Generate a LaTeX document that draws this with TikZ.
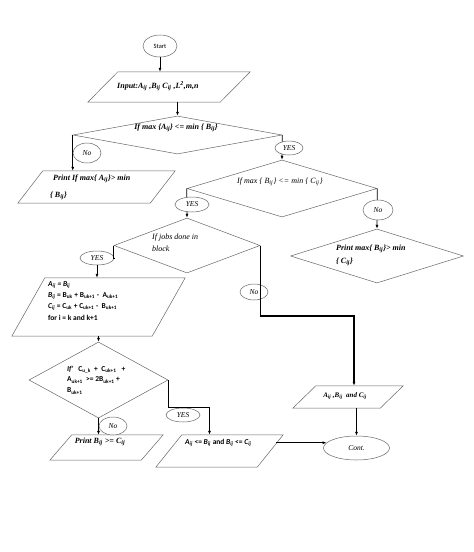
\documentclass[tikz,border=0pt]{standalone}
\usepackage{fontspec}
\setmainfont{Liberation Serif}
\newfontfamily\calib{Carlito}
\usetikzlibrary{shapes.geometric,arrows.meta}
\newcommand\sbs[1]{\textsubscript{#1}}
\newcommand\pgm[2]{\draw[shp] ([xshift=#2]#1.north west) -- (#1.north east) -- ([xshift=-#2]#1.south east) -- (#1.south west) -- cycle;}
\begin{document}
\begin{tikzpicture}[x=1pt,y=-1pt,
  shp/.style={draw=black!60, line width=0.5pt},
  box/.style={rectangle, draw=none, inner sep=0pt},
  dia/.style={diamond, shp, inner sep=0pt},
  oval/.style={ellipse, shp, fill=white, inner sep=0pt, font=\fontsize{7.5}{9}\selectfont\itshape},
  conn/.style={draw=black, line width=0.7pt, -{Latex[length=4pt,width=3pt]}},
  plain/.style={draw=black, line width=0.7pt},
  thk/.style={line width=1.4pt},
  txt/.style={inner sep=0pt, align=left, font=\fontsize{8}{11}\selectfont\bfseries\itshape},
  itx/.style={inner sep=0pt, align=left, font=\fontsize{8}{11}\selectfont\itshape},
  sans/.style={inner sep=0pt, align=left, font=\fontsize{7.5}{10}\selectfont\calib\bfseries}]
\useasboundingbox (0,0) rectangle (474,552);

% shapes
\node[oval, font=\fontsize{6.5}{8}\selectfont\calib, minimum width=34pt, minimum height=22pt] (start) at (160,46) {Start};

\node[box, minimum width=162pt, minimum height=30pt] (in) at (169,87) {};
\pgm{in}{30pt}
\node[txt, anchor=west] (intxt) at (117,86) {Input:A\sbs{ij} ,B\sbs{ij} C\sbs{ij} ,L\textsuperscript{2},m,n};

\node[dia, minimum width=209pt, minimum height=38pt] (d1) at (177.5,135) {};
\node[txt] (d1txt) at (176,128) {If max \{A\sbs{ij}\} <= min \{ B\sbs{ij}\}};

\node[box, minimum width=157pt, minimum height=32pt] (p1) at (96.5,187) {};
\pgm{p1}{25pt}
\node[txt, anchor=west] (p1a) at (53,179) {Print If max\{ A\sbs{ij}\}> min};
\node[txt, anchor=west] (p1b) at (50,196) {\{ B\sbs{ij}\}};

\node[dia, minimum width=190pt, minimum height=57pt] (d2) at (282,188.5) {};
\node[itx] (d2txt) at (280,182) {If max \{ B\sbs{ij}\} <= min \{ C\sbs{ij}\}};

\node[dia, minimum width=173pt, minimum height=54pt] (d3r) at (377,256) {};
\node[txt, anchor=west] (d3ra) at (336,249) {Print max\{ B\sbs{ij}\}> min};
\node[txt, anchor=west] (d3rb) at (336,262) {\{ C\sbs{ij}\}};

\node[dia, minimum width=146pt, minimum height=55pt] (d3) at (187,245.5) {};
\node[itx, anchor=west] (d3a) at (152,238) {If jobs done in};
\node[itx, anchor=west] (d3b) at (152,249) {block};

\node[box, minimum width=173pt, minimum height=58pt] (p2) at (98.5,307) {};
\pgm{p2}{33pt}
\node[sans, anchor=west] (p2a) at (48,285) {\itshape A\sbs{ij} = B\sbs{ij}};
\node[sans, anchor=west] (p2b) at (48,296) {{\itshape B\sbs{ij}} = B\sbs{uk} + B\sbs{uk+1} -\ \ A\sbs{uk+1}};
\node[sans, anchor=west] (p2c) at (48,307) {{\itshape C\sbs{ij}} = C\sbs{uk} + C\sbs{uk+1} -\ \ B\sbs{uk+1}};
\node[sans, anchor=west] (p2d) at (48,318) {for i = k and k+1};

\node[dia, minimum width=139pt, minimum height=76pt] (d4) at (98.5,380) {};
\node[sans, anchor=west] (d4a) at (67,370) {\itshape If'\upshape\ \ \ C\sbs{u\_k}\ \ + \ C\sbs{uk+1} \ \ +};
\node[sans, anchor=west] (d4b) at (67,380) {A\sbs{uk+1} \ >= 2B\sbs{uk+1} +};
\node[sans, anchor=west] (d4c) at (67,391) {B\sbs{uk+1}};

\node[box, minimum width=113pt, minimum height=25pt] (p3) at (106.5,447.5) {};
\pgm{p3}{22pt}
\node[txt] (p3txt) at (100,442) {Print B\sbs{ij} >= C\sbs{ij}};

\node[box, minimum width=127pt, minimum height=32pt] (p4) at (219.5,451) {};
\pgm{p4}{26pt}
\node[sans, anchor=west] (p4txt) at (185,443) {{\itshape A\sbs{ij}} <= {\itshape B\sbs{ij}} and {\itshape B\sbs{ij}} <= {\itshape C\sbs{ij}}};

\node[box, minimum width=110pt, minimum height=22pt] (p5) at (348,397) {};
\pgm{p5}{23pt}
\node[txt, font=\fontsize{7}{9}\selectfont\bfseries\itshape] (p5txt) at (345,396) {A\sbs{ij} ,B\sbs{ij} \ and C\sbs{ij}};

\node[oval, minimum width=66pt, minimum height=24pt] (cont) at (356.5,448) {Cont.};

\node[oval, minimum width=34pt, minimum height=14pt] (yes3) at (97,258) {YES};
\node[oval, minimum width=34pt, minimum height=14pt] (yes4) at (183,415) {YES};
\node[oval, minimum width=28pt, minimum height=16pt] (no3) at (254,292) {No};

% connectors
\draw[conn] (start.south) -- (start.south |- in.north);
\draw[conn] (in.south -| d1.north) -- (d1.north);
\draw[conn] (d1.west) -- (d1.west |- p1.north);
\draw[conn] (d1.east) -- (d2.north);
\draw[conn] (d2.east) -- (d3r.north);
\draw[conn] (d2.west) -- (d3.north);
\draw[plain] (d3.west) |- (yes3.east);
\draw[conn] (yes3.south) -- (yes3.south |- p2.north);
\draw[conn] (p2.south) -- (d4.north);
\draw[conn] (d4.south) -- (d4.south |- p3.north);
\draw[conn, thk] (d4.east) -- (d4.east |- yes4.north) -| ([xshift=-10pt]p4.north);
\draw[conn, thk] (d3.east) -- ++(0,70.5) -| ([xshift=6pt]p5.north);
\draw[conn, thk] ([xshift=-7pt]cont.170 -| p4.east) -- (cont.170);
\draw[conn] (p5.south -| cont.north) -- (cont.north);

% branch labels over the lines
\node[oval, minimum width=28pt, minimum height=20pt] (no1) at (87,153) {No};
\node[oval, minimum width=28pt, minimum height=14pt] (yes1) at (289,148) {YES};
\node[oval, minimum width=30pt, minimum height=20pt] (no2) at (378,210) {No};
\node[oval, minimum width=34pt, minimum height=15pt] (yes2) at (192,204.5) {YES};
\node[oval, minimum width=28pt, minimum height=18pt] (no4) at (113,426) {No};
\end{tikzpicture}
\end{document}
